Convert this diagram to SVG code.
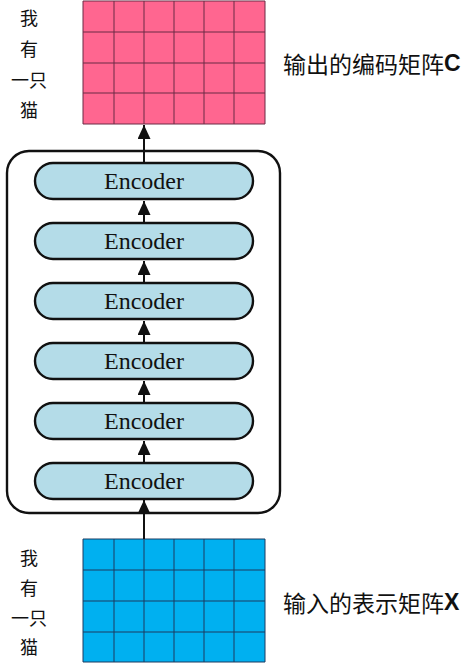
<svg xmlns="http://www.w3.org/2000/svg" width="474" height="666" viewBox="0 0 474 666">
<style>
.cjk{font-family:"Noto Sans CJK SC","Noto Sans",sans-serif;fill:#111;}
.side{font-size:18px;text-anchor:middle;dominant-baseline:central;}
.lbl{font-size:23px;dominant-baseline:central;}
.enc rect{fill:#B4DCE8;stroke:#111;stroke-width:2.4;}
.enc text{font-family:"Liberation Serif","Times New Roman",serif;font-size:24px;fill:#111;text-anchor:middle;dominant-baseline:central;}
.conn line{stroke:#111;stroke-width:2;}
.gridC line{stroke:#6b2a45;stroke-width:1;}
.gridX line{stroke:#1c3a60;stroke-width:1;}
</style>
<defs>
<marker id="ah" viewBox="0 0 14 13" refX="14" refY="6.5" markerWidth="14" markerHeight="13" markerUnits="userSpaceOnUse" orient="auto">
<path d="M0,0 L14,6.5 L0,13 Z" fill="#111"/>
</marker>
</defs>
<rect width="474" height="666" fill="#fff"/>

<g id="matrixC">
<rect x="83" y="1" width="182" height="123" fill="#FF6690"/>
<g class="gridC">
<line x1="83" y1="1" x2="265" y2="1"/>
<line x1="83" y1="32" x2="265" y2="32"/>
<line x1="83" y1="63" x2="265" y2="63"/>
<line x1="83" y1="93" x2="265" y2="93"/>
<line x1="83" y1="124" x2="265" y2="124"/>
<line x1="83" y1="1" x2="83" y2="124"/>
<line x1="114" y1="1" x2="114" y2="124"/>
<line x1="144" y1="1" x2="144" y2="124"/>
<line x1="174" y1="1" x2="174" y2="124"/>
<line x1="204" y1="1" x2="204" y2="124"/>
<line x1="234" y1="1" x2="234" y2="124"/>
<line x1="265" y1="1" x2="265" y2="124"/>
</g>
</g>
<g id="labelsC" class="cjk">
<text class="side" x="29" y="17">我</text>
<text class="side" x="29" y="48">有</text>
<text class="side" x="29" y="79">一只</text>
<text class="side" x="29" y="109">猫</text>
<text class="lbl" x="283" y="63">输出的编码矩阵<tspan font-family="Liberation Sans,Arial,sans-serif" font-weight="bold">C</tspan></text>
</g>

<g id="stack">
<rect x="7" y="151" width="273" height="362" rx="22" ry="22" fill="none" stroke="#111" stroke-width="2.4"/>
</g>

<g id="encoder1" class="enc"><rect x="35" y="163" width="218" height="36" rx="18"/><text x="144" y="181">Encoder</text></g>
<g id="encoder2" class="enc"><rect x="35" y="223" width="218" height="36" rx="18"/><text x="144" y="241">Encoder</text></g>
<g id="encoder3" class="enc"><rect x="35" y="283" width="218" height="36" rx="18"/><text x="144" y="301">Encoder</text></g>
<g id="encoder4" class="enc"><rect x="35" y="343" width="218" height="36" rx="18"/><text x="144" y="361">Encoder</text></g>
<g id="encoder5" class="enc"><rect x="35" y="403" width="218" height="36" rx="18"/><text x="144" y="421">Encoder</text></g>
<g id="encoder6" class="enc"><rect x="35" y="463" width="218" height="36" rx="18"/><text x="144" y="481">Encoder</text></g>

<g id="matrixX">
<rect x="83" y="539" width="182" height="123" fill="#00B0F0"/>
<g class="gridX">
<line x1="83" y1="539" x2="265" y2="539"/>
<line x1="83" y1="570" x2="265" y2="570"/>
<line x1="83" y1="601" x2="265" y2="601"/>
<line x1="83" y1="632" x2="265" y2="632"/>
<line x1="83" y1="662" x2="265" y2="662"/>
<line x1="83" y1="539" x2="83" y2="662"/>
<line x1="114" y1="539" x2="114" y2="662"/>
<line x1="144" y1="539" x2="144" y2="662"/>
<line x1="174" y1="539" x2="174" y2="662"/>
<line x1="204" y1="539" x2="204" y2="662"/>
<line x1="234" y1="539" x2="234" y2="662"/>
<line x1="265" y1="539" x2="265" y2="662"/>
</g>
</g>
<g id="labelsX" class="cjk">
<text class="side" x="29" y="557">我</text>
<text class="side" x="29" y="587">有</text>
<text class="side" x="29" y="617">一只</text>
<text class="side" x="29" y="646">猫</text>
<text class="lbl" x="283" y="602">输入的表示矩阵<tspan font-family="Liberation Sans,Arial,sans-serif" font-weight="bold">X</tspan></text>
</g>

<g id="connectors" class="conn">
<line x1="144" y1="539" x2="144" y2="500" marker-end="url(#ah)"/>
<line x1="144" y1="463" x2="144" y2="441" marker-end="url(#ah)"/>
<line x1="144" y1="403" x2="144" y2="381" marker-end="url(#ah)"/>
<line x1="144" y1="343" x2="144" y2="321" marker-end="url(#ah)"/>
<line x1="144" y1="283" x2="144" y2="261" marker-end="url(#ah)"/>
<line x1="144" y1="223" x2="144" y2="201" marker-end="url(#ah)"/>
<line x1="144" y1="163" x2="144" y2="125" marker-end="url(#ah)"/>
</g>
</svg>
